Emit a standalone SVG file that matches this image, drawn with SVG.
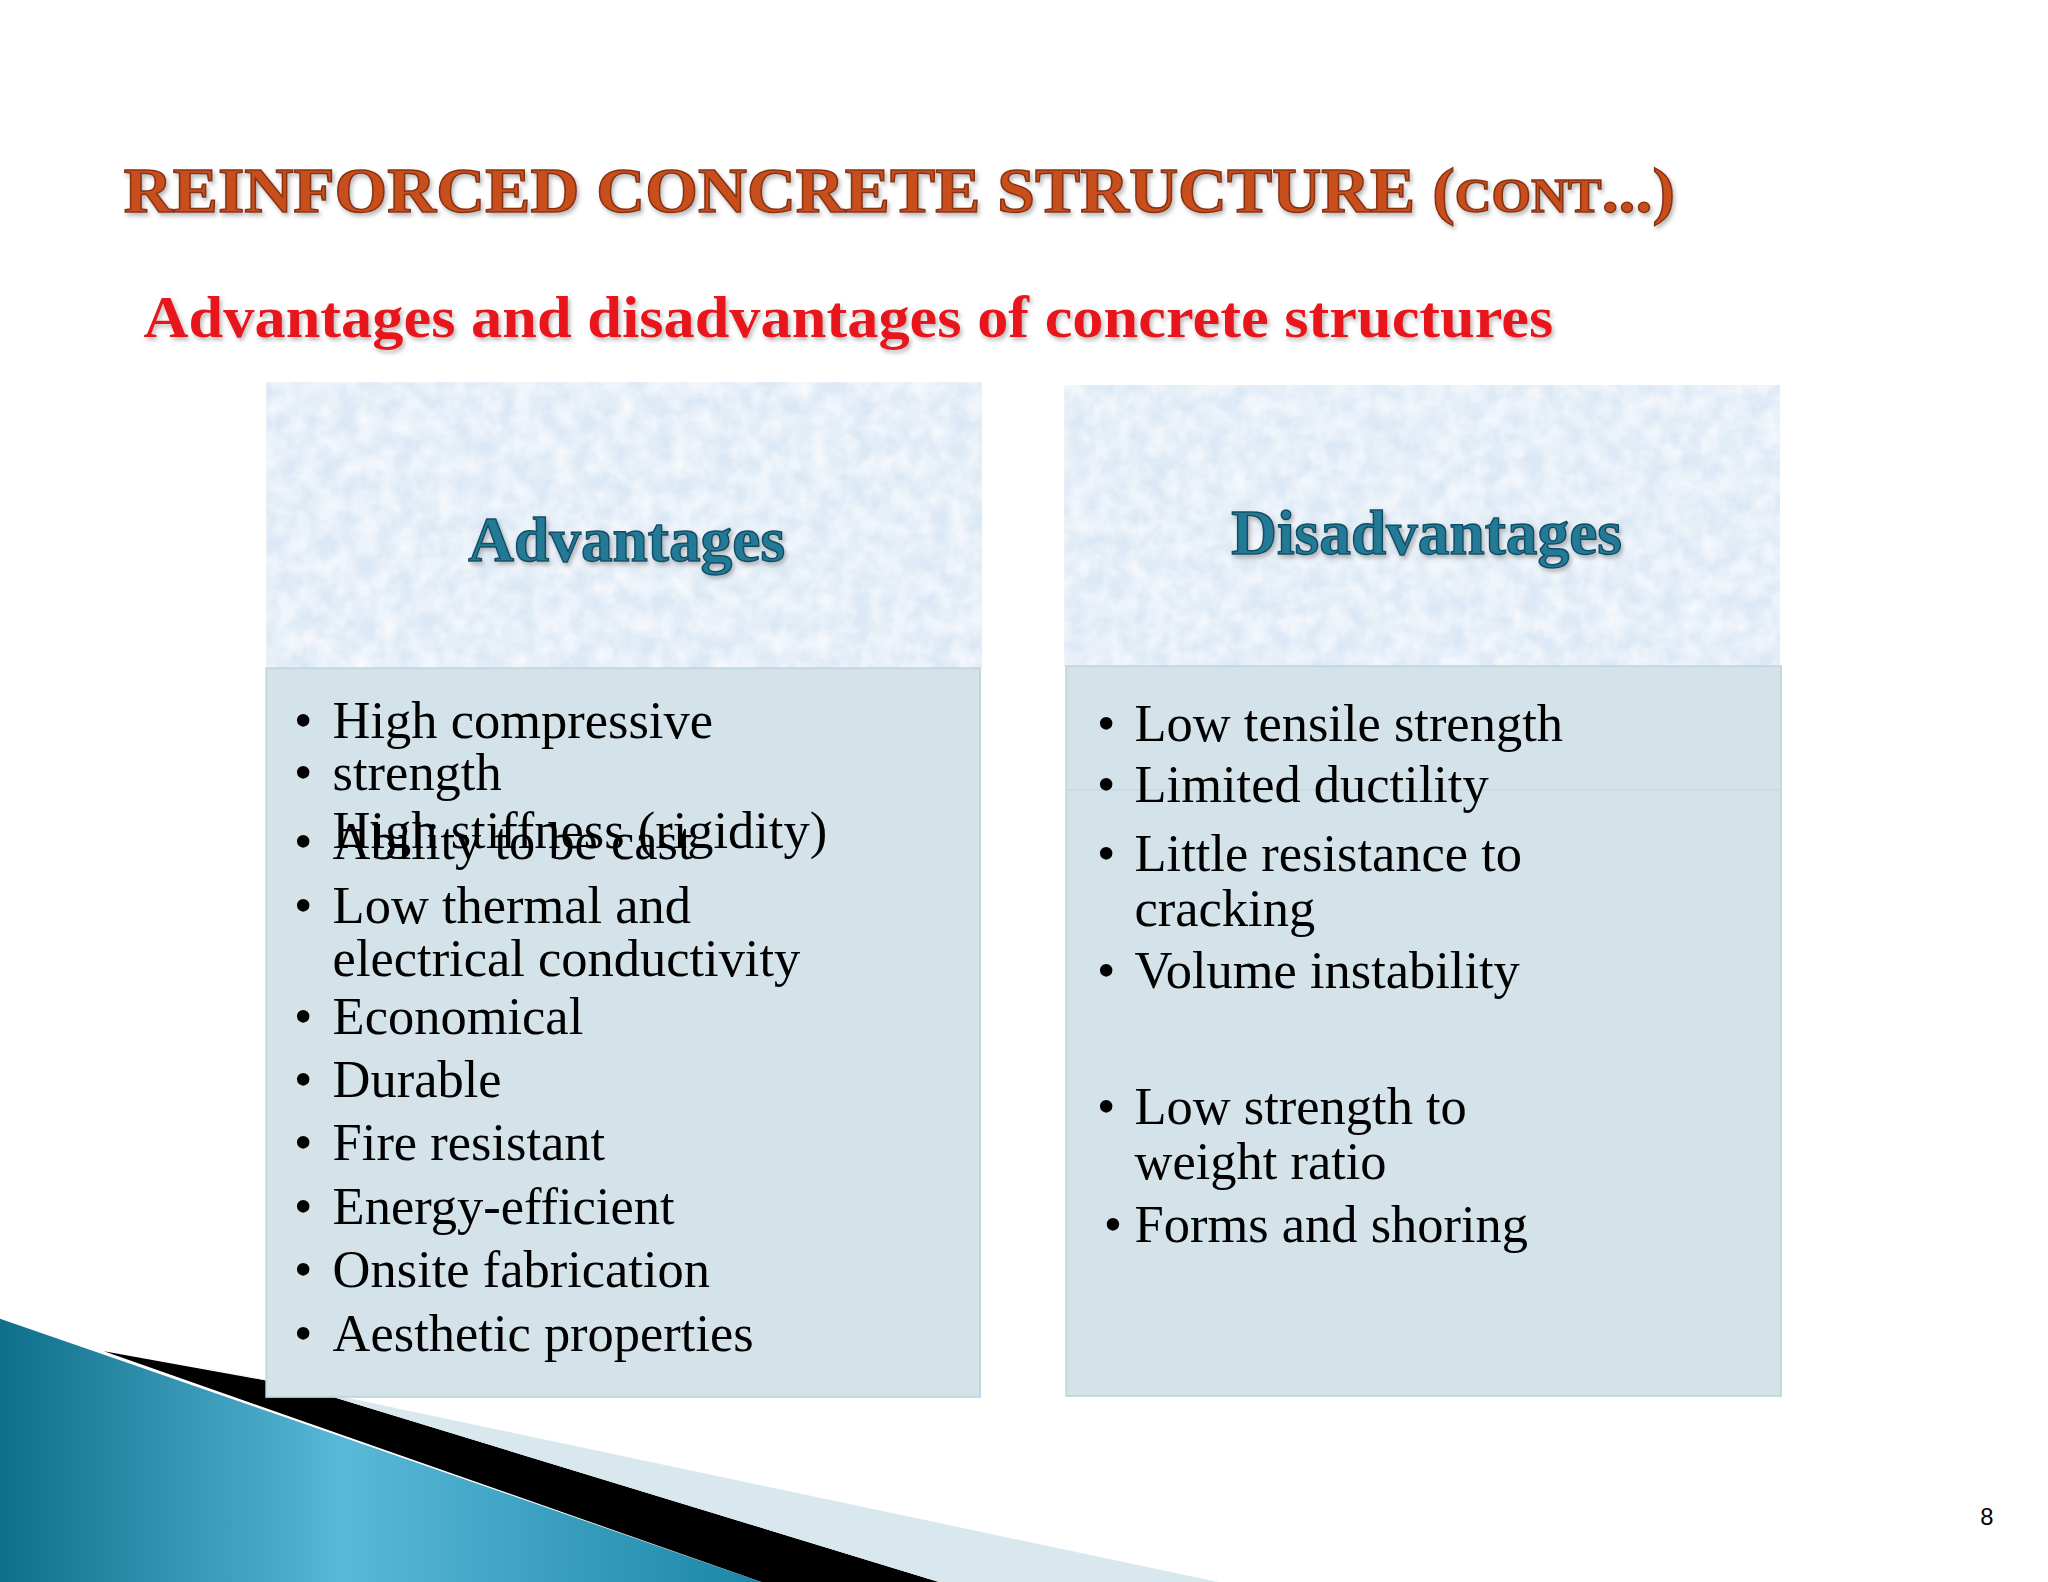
<svg xmlns="http://www.w3.org/2000/svg" width="2048" height="1582" viewBox="0 0 2048 1582">
<style>
.body{fill:#d3e3e9;stroke:#c4d6de;stroke-width:2}
.hdr{fill:#dbe8f5}
.it{font-family:"Liberation Serif",serif;font-size:53px;fill:#000}
.hd{font-family:"Liberation Serif",serif;font-weight:bold;font-size:64px;fill:#237a96;stroke:#0e4f66;stroke-width:1.5}
</style>
<defs>
<filter id="tex" x="0" y="0" width="1" height="1">
<feTurbulence type="fractalNoise" baseFrequency="0.05" numOctaves="3" seed="4"/>
<feColorMatrix values="0 0 0 0 1  0 0 0 0 1  0 0 0 0 1  0 0 0 -1.2 0.9"/>
<feComposite in2="SourceGraphic" operator="in"/>
<feBlend in2="SourceGraphic" mode="screen"/>
</filter>
<linearGradient id="teal" x1="0" y1="0" x2="1" y2="0">
<stop offset="0" stop-color="#0f6f8a"/><stop offset="0.45" stop-color="#5ab8d8"/><stop offset="1" stop-color="#1a86a6"/>
</linearGradient>
<filter id="sh"><feDropShadow dx="2" dy="3" stdDeviation="2" flood-color="#888" flood-opacity="0.6"/></filter>
</defs>
<rect width="2048" height="1582" fill="#fff"/>
<g transform="scale(0.99)">
<g id="title" filter="url(#sh)">
<text x="125" y="214" font-family="Liberation Serif,serif" font-weight="bold" font-size="64" fill="#c8501e" stroke="#8a3010" stroke-width="1.5" textLength="1567" lengthAdjust="spacingAndGlyphs">REINFORCED CONCRETE STRUCTURE (<tspan font-size="48">CONT</tspan>...)</text>
</g>
<g id="subtitle" filter="url(#sh)">
<text x="145" y="340" font-family="Liberation Serif,serif" font-weight="bold" font-size="60" fill="#e8141a" textLength="1424" lengthAdjust="spacingAndGlyphs">Advantages and disadvantages of concrete structures</text>
</g>
<g id="deco">
<polygon points="0,1332 775,1600 0,1600" fill="url(#teal)"/>
<polygon points="105,1365 300,1400 955,1600 775,1600" fill="#000"/>
<polygon points="200,1380 1240,1600 955,1600 300,1400" fill="#d8e8ee"/>
</g>
<g id="adv-header">
<rect x="269" y="386" width="723" height="289" class="hdr" filter="url(#tex)"/>
<text x="633" y="567" text-anchor="middle" class="hd" filter="url(#sh)">Advantages</text>
</g>
<g id="dis-header">
<rect x="1075" y="389" width="723" height="284" class="hdr" filter="url(#tex)"/>
<text x="1441" y="560" text-anchor="middle" class="hd" filter="url(#sh)">Disadvantages</text>
</g>
<g id="adv-body">
<rect x="269" y="675" width="721" height="736" class="body"/>
<g class="it">
<text x="297" y="745">•</text><text x="336" y="745">High compressive</text>
<text x="297" y="798">•</text><text x="336" y="798">strength</text>
<text x="336" y="857">High stiffness (rigidity)</text>
<text x="297" y="868">•</text><text x="336" y="868">Ability to be cast</text>
<text x="297" y="932">•</text><text x="336" y="932">Low thermal and</text>
<text x="336" y="986">electrical conductivity</text>
<text x="297" y="1044">•</text><text x="336" y="1044">Economical</text>
<text x="297" y="1108">•</text><text x="336" y="1108">Durable</text>
<text x="297" y="1172">•</text><text x="336" y="1172">Fire resistant</text>
<text x="297" y="1236">•</text><text x="336" y="1236">Energy-efficient</text>
<text x="297" y="1300">•</text><text x="336" y="1300">Onsite fabrication</text>
<text x="297" y="1365">•</text><text x="336" y="1365">Aesthetic properties</text>
</g>
</g>
<g id="dis-body">
<rect x="1077" y="673" width="722" height="737" class="body"/>
<line x1="1077" y1="798" x2="1799" y2="798" stroke="#c6d9e0" stroke-width="1.5"/>
<g class="it">
<text x="1108" y="749">•</text><text x="1146" y="749">Low tensile strength</text>
<text x="1108" y="810">•</text><text x="1146" y="810">Limited ductility</text>
<text x="1108" y="880">•</text><text x="1146" y="880">Little resistance to</text>
<text x="1146" y="935">cracking</text>
<text x="1108" y="998">•</text><text x="1146" y="998">Volume instability</text>
<text x="1108" y="1135">•</text><text x="1146" y="1135">Low strength to</text>
<text x="1146" y="1191">weight ratio</text>
<text x="1115" y="1255">•</text><text x="1146" y="1255">Forms and shoring</text>
</g>
</g>
<text x="2007" y="1540" font-family="Liberation Sans,sans-serif" font-size="24" text-anchor="middle">8</text>
</g>
</svg>
